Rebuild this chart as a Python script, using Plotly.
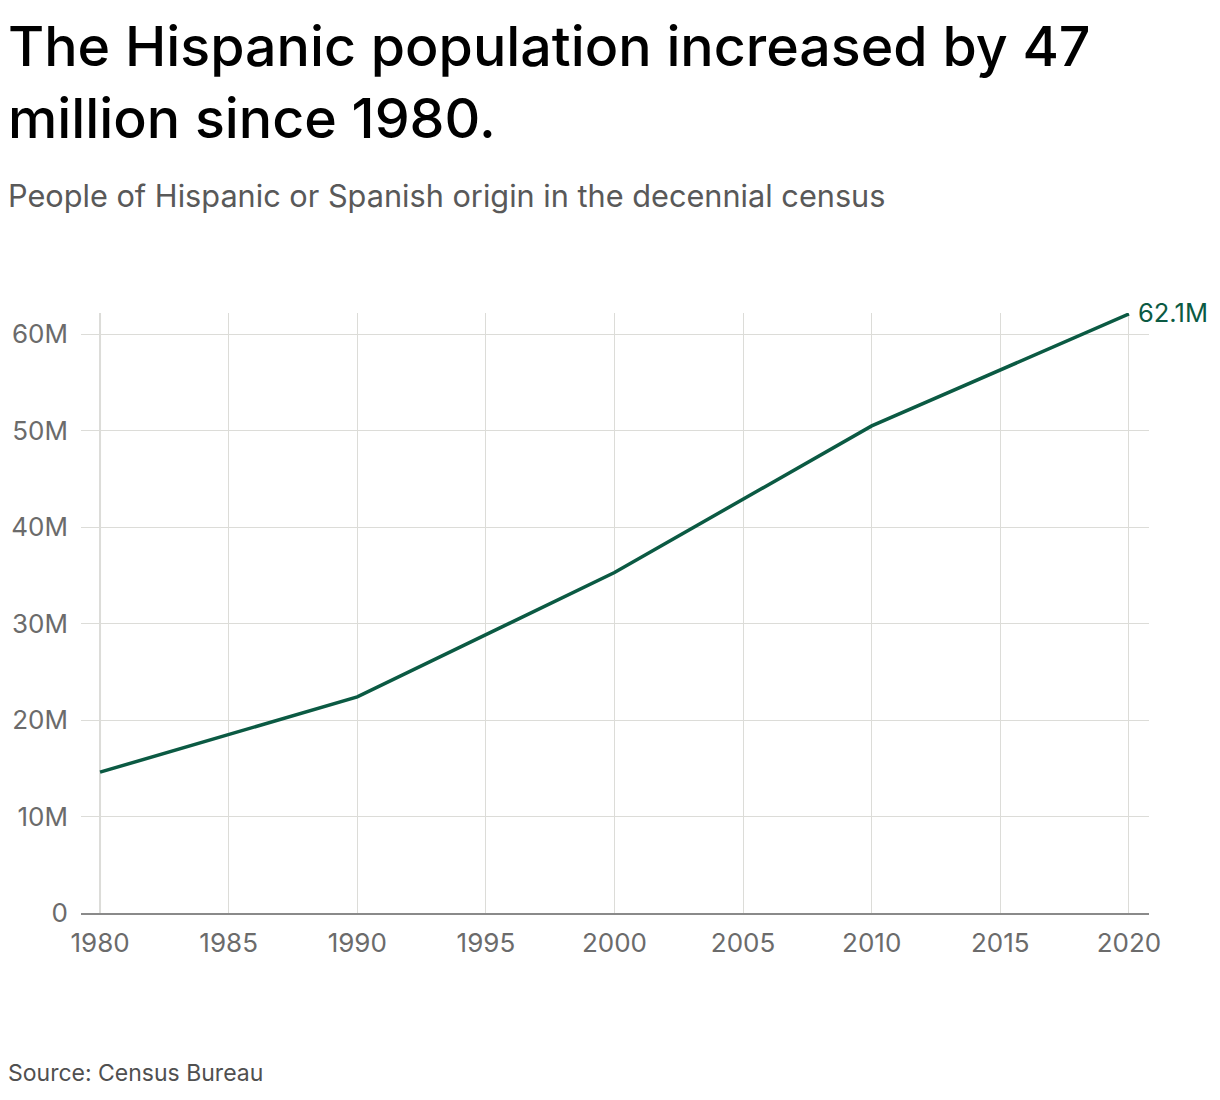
import plotly.graph_objects as go

# census years and Hispanic population (millions)
years = [1980, 1990, 2000, 2010, 2020]
population = [14.6, 22.4, 35.3, 50.5, 62.1]

x_ticks = [1980, 1985, 1990, 1995, 2000, 2005, 2010, 2015, 2020]
y_ticks = [0, 10, 20, 30, 40, 50, 60]
y_labels = ["0", "10M", "20M", "30M", "40M", "50M", "60M"]

line_color = "#0b5a43"
grid_color = "#dcdcd8"
font_name = "Inter"

fig = go.Figure()
fig.add_trace(go.Scatter(
    x=years,
    y=population,
    mode="lines",
    line=dict(color=line_color, width=3.5),
    hoverinfo="x+y",
))

# label on the last point
fig.add_annotation(
    x=years[-1], y=population[-1],
    text=f"{population[-1]}M",
    showarrow=False,
    xanchor="left", yanchor="middle",
    xshift=7, yshift=1,
    font=dict(family=font_name, size=25.5, color=line_color),
)

# the first year's gridline is drawn a little heavier
fig.add_shape(
    type="line", xref="x", yref="paper",
    x0=x_ticks[0], x1=x_ticks[0], y0=0, y1=1,
    line=dict(color=grid_color, width=2),
    layer="below",
)

fig.update_layout(
    width=1210,
    height=1090,
    margin=dict(l=73, r=69, t=305, b=185),
    paper_bgcolor="white",
    plot_bgcolor="white",
    showlegend=False,
    font=dict(family=font_name, color="#6b6b6b"),
)

fig.add_annotation(
    text="The Hispanic population increased by 47<br>million since 1980.",
    xref="paper", yref="paper", x=-0.070, y=1.0,
    xanchor="left", yanchor="bottom", yshift=160,
    showarrow=False, align="left",
    font=dict(family=font_name, size=55.5, color="black", weight=500),
)
fig.add_annotation(
    text="People of Hispanic or Spanish origin in the decennial census",
    xref="paper", yref="paper", x=-0.070, y=1.0,
    xanchor="left", yanchor="bottom", yshift=97,
    showarrow=False, align="left",
    font=dict(family=font_name, size=30.7, color="#595959"),
)
fig.add_annotation(
    text="Source: Census Bureau",
    xref="paper", yref="paper", x=-0.070, y=0,
    xanchor="left", yanchor="top", yshift=-144,
    showarrow=False, align="left",
    font=dict(family=font_name, size=23, color="#505050"),
)

fig.update_xaxes(
    range=[1979.26, 2020.78],
    tickvals=x_ticks,
    showgrid=True, gridcolor=grid_color, gridwidth=1,
    showline=True, linecolor="#8a8a8a", linewidth=2,
    ticks="", ticklen=0, ticklabelstandoff=6,
    tickfont=dict(family=font_name, size=26, color="#6b6b6b"),
    zeroline=False,
    automargin=False,
    fixedrange=True,
)
fig.update_yaxes(
    range=[0, 62.2],
    tickvals=y_ticks,
    ticktext=y_labels,
    showgrid=True, gridcolor=grid_color, gridwidth=1,
    showline=False, zeroline=False,
    ticks="", ticklabelstandoff=12,
    tickfont=dict(family=font_name, size=26, color="#6b6b6b"),
    automargin=False,
    fixedrange=True,
)

fig.write_html("out.html")
